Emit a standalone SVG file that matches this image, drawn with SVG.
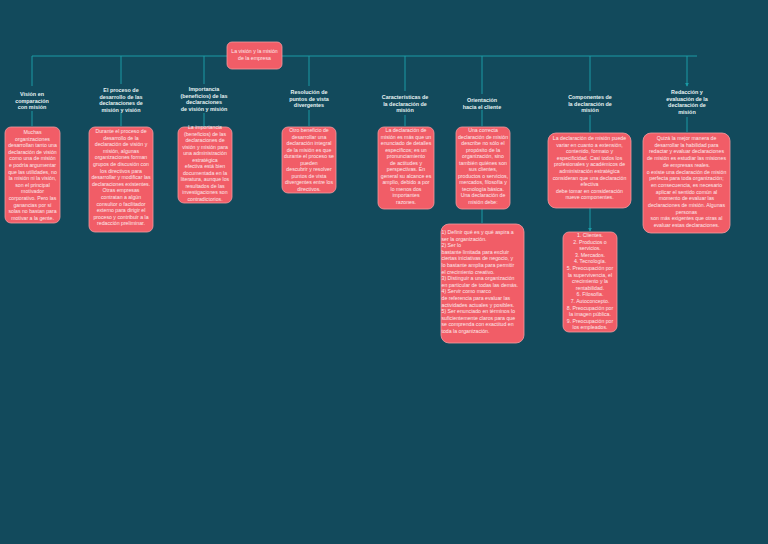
<svg xmlns="http://www.w3.org/2000/svg" width="768" height="544" viewBox="0 0 768 544">
<defs>
<marker id="a" viewBox="0 0 6 6" refX="5" refY="3" markerWidth="4" markerHeight="4" orient="auto"><path d="M0,0L6,3L0,6z" fill="#1a9aa5"/></marker>
<style>
.b{fill:#f15d67;stroke:#f59aa0;stroke-width:0.8}
.t{font-family:"Liberation Sans",Arial,sans-serif;font-size:5.2px;fill:#fde8ea;text-anchor:middle}
.h{font-family:"Liberation Sans",Arial,sans-serif;font-size:5.4px;font-weight:bold;fill:#e6f2f2;text-anchor:middle}
.l{fill:none;stroke:#1a9aa5;stroke-width:1}
</style>
</defs>
<rect width="768" height="544" fill="#124a5c"/>
<g id="connectors">
<path class="l" d="M32,56H697"/>
<path class="l" d="M32,56V86M121,56V84M204,56V84M309,56V86M405,56V91M482,56V94M590,56V91M687,56V86" marker-end="url(#a)"/>
<path class="l" d="M32,111V126M121,113V126M204,113V126M309,110V126M405,115V126M482,110V126M590,115V132M687,117V132M482,209V223M590,208V231" marker-end="url(#a)"/>
</g>
<g id="root"><rect class="b" x="227" y="42" width="55" height="27" rx="5"/><text class="t" y="53"><tspan x="254.5">La visión y la misión</tspan><tspan x="254.5" dy="6.6">de la empresa</tspan></text></g>
<g id="h1"><text class="h" y="96"><tspan x="32">Visión en</tspan><tspan x="32" dy="6.5">comparación</tspan><tspan x="32" dy="6.5">con misión</tspan></text></g>
<g id="h2"><text class="h" y="92"><tspan x="121">El proceso de</tspan><tspan x="121" dy="6.5">desarrollo de las</tspan><tspan x="121" dy="6.5">declaraciones de</tspan><tspan x="121" dy="6.5">misión y visión</tspan></text></g>
<g id="h3"><text class="h" y="91"><tspan x="204">Importancia</tspan><tspan x="204" dy="6.5">(beneficios) de las</tspan><tspan x="204" dy="6.5">declaraciones</tspan><tspan x="204" dy="6.5">de visión y misión</tspan></text></g>
<g id="h4"><text class="h" y="94"><tspan x="309">Resolución de</tspan><tspan x="309" dy="6.5">puntos de vista</tspan><tspan x="309" dy="6.5">divergentes</tspan></text></g>
<g id="h5"><text class="h" y="99"><tspan x="405">Características de</tspan><tspan x="405" dy="6.5">la declaración de</tspan><tspan x="405" dy="6.5">misión</tspan></text></g>
<g id="h6"><text class="h" y="102"><tspan x="482">Orientación</tspan><tspan x="482" dy="6.5">hacia el cliente</tspan></text></g>
<g id="h7"><text class="h" y="99"><tspan x="590">Componentes de</tspan><tspan x="590" dy="6.5">la declaración de</tspan><tspan x="590" dy="6.5">misión</tspan></text></g>
<g id="h8"><text class="h" y="94"><tspan x="687">Redacción y</tspan><tspan x="687" dy="6.5">evaluación de la</tspan><tspan x="687" dy="6.5">declaración de</tspan><tspan x="687" dy="6.5">misión</tspan></text></g>
<g id="n1"><rect class="b" x="5" y="127" width="55" height="96" rx="6"/><text class="t" y="134"><tspan x="32.5">Muchas</tspan><tspan x="32.5" dy="6.6">organizaciones</tspan><tspan x="32.5" dy="6.6">desarrollan tanto una</tspan><tspan x="32.5" dy="6.6">declaración de visión</tspan><tspan x="32.5" dy="6.6">como una de misión</tspan><tspan x="32.5" dy="6.6">e podría argumentar</tspan><tspan x="32.5" dy="6.6">que las utilidades, no</tspan><tspan x="32.5" dy="6.6">la misión ni la visión,</tspan><tspan x="32.5" dy="6.6">son el principal</tspan><tspan x="32.5" dy="6.6">motivador</tspan><tspan x="32.5" dy="6.6">corporativo. Pero las</tspan><tspan x="32.5" dy="6.6">ganancias por sí</tspan><tspan x="32.5" dy="6.6">solas no bastan para</tspan><tspan x="32.5" dy="6.6">motivar a la gente.</tspan></text></g>
<g id="n2"><rect class="b" x="89" y="127" width="64" height="105" rx="6"/><text class="t" y="133"><tspan x="121">Durante el proceso de</tspan><tspan x="121" dy="6.6">desarrollo de la</tspan><tspan x="121" dy="6.6">declaración de visión y</tspan><tspan x="121" dy="6.6">misión, algunas</tspan><tspan x="121" dy="6.6">organizaciones forman</tspan><tspan x="121" dy="6.6">grupos de discusión con</tspan><tspan x="121" dy="6.6">los directivos para</tspan><tspan x="121" dy="6.6">desarrollar y modificar las</tspan><tspan x="121" dy="6.6">declaraciones existentes.</tspan><tspan x="121" dy="6.6">Otras empresas</tspan><tspan x="121" dy="6.6">contratan a algún</tspan><tspan x="121" dy="6.6">consultor o facilitador</tspan><tspan x="121" dy="6.6">externo para dirigir el</tspan><tspan x="121" dy="6.6">proceso y contribuir a la</tspan><tspan x="121" dy="6.6">redacción preliminar.</tspan></text></g>
<g id="n3"><rect class="b" x="178" y="127" width="54" height="76" rx="6"/><text class="t" y="129"><tspan x="205">La importancia</tspan><tspan x="205" dy="6.5">(beneficios) de las</tspan><tspan x="205" dy="6.5">declaraciones de</tspan><tspan x="205" dy="6.5">visión y misión para</tspan><tspan x="205" dy="6.5">una administración</tspan><tspan x="205" dy="6.5">estratégica</tspan><tspan x="205" dy="6.5">efectiva está bien</tspan><tspan x="205" dy="6.5">documentada en la</tspan><tspan x="205" dy="6.5">literatura, aunque los</tspan><tspan x="205" dy="6.5">resultados de las</tspan><tspan x="205" dy="6.5">investigaciones son</tspan><tspan x="205" dy="6.5">contradictorios.</tspan></text></g>
<g id="n4"><rect class="b" x="282" y="127" width="54" height="66" rx="6"/><text class="t" y="132"><tspan x="309">Otro beneficio de</tspan><tspan x="309" dy="6.5">desarrollar una</tspan><tspan x="309" dy="6.5">declaración integral</tspan><tspan x="309" dy="6.5">de la misión es que</tspan><tspan x="309" dy="6.5">durante el proceso se</tspan><tspan x="309" dy="6.5">pueden</tspan><tspan x="309" dy="6.5">descubrir y resolver</tspan><tspan x="309" dy="6.5">puntos de vista</tspan><tspan x="309" dy="6.5">divergentes entre los</tspan><tspan x="309" dy="6.5">directivos.</tspan></text></g>
<g id="n5"><rect class="b" x="378" y="127" width="56" height="82" rx="6"/><text class="t" y="132"><tspan x="406">La declaración de</tspan><tspan x="406" dy="6.5">misión es más que un</tspan><tspan x="406" dy="6.5">enunciado de detalles</tspan><tspan x="406" dy="6.5">específicos; es un</tspan><tspan x="406" dy="6.5">pronunciamiento</tspan><tspan x="406" dy="6.5">de actitudes y</tspan><tspan x="406" dy="6.5">perspectivas. En</tspan><tspan x="406" dy="6.5">general su alcance es</tspan><tspan x="406" dy="6.5">amplio, debido a por</tspan><tspan x="406" dy="6.5">lo menos dos</tspan><tspan x="406" dy="6.5">importantes</tspan><tspan x="406" dy="6.5">razones.</tspan></text></g>
<g id="n6"><rect class="b" x="456" y="127" width="54" height="82" rx="6"/><text class="t" y="132"><tspan x="483">Una correcta</tspan><tspan x="483" dy="6.5">declaración de misión</tspan><tspan x="483" dy="6.5">describe no sólo el</tspan><tspan x="483" dy="6.5">propósito de la</tspan><tspan x="483" dy="6.5">organización, sino</tspan><tspan x="483" dy="6.5">también quiénes son</tspan><tspan x="483" dy="6.5">sus clientes,</tspan><tspan x="483" dy="6.5">productos o servicios,</tspan><tspan x="483" dy="6.5">mercados, filosofía y</tspan><tspan x="483" dy="6.5">tecnología básica.</tspan><tspan x="483" dy="6.5">Una declaración de</tspan><tspan x="483" dy="6.5">misión debe:</tspan></text></g>
<g id="n6b"><rect class="b" x="441" y="224" width="83" height="119" rx="8"/><text class="t" style="text-anchor:start" y="234"><tspan x="441.5">1) Definir qué es y qué aspira a</tspan><tspan x="441.5" dy="6.6">ser la organización.</tspan><tspan x="441.5" dy="6.6">2) Ser lo</tspan><tspan x="441.5" dy="6.6">bastante limitada para excluir</tspan><tspan x="441.5" dy="6.6">ciertas iniciativas de negocio, y</tspan><tspan x="441.5" dy="6.6">lo bastante amplia para permitir</tspan><tspan x="441.5" dy="6.6">el crecimiento creativo.</tspan><tspan x="441.5" dy="6.6">3) Distinguir a una organización</tspan><tspan x="441.5" dy="6.6">en particular de todas las demás.</tspan><tspan x="441.5" dy="6.6">4) Servir como marco</tspan><tspan x="441.5" dy="6.6">de referencia para evaluar las</tspan><tspan x="441.5" dy="6.6">actividades actuales y posibles.</tspan><tspan x="441.5" dy="6.6">5) Ser enunciado en términos lo</tspan><tspan x="441.5" dy="6.6">suficientemente claros para que</tspan><tspan x="441.5" dy="6.6">se comprenda con exactitud en</tspan><tspan x="441.5" dy="6.6">toda la organización.</tspan></text></g>
<g id="n7"><rect class="b" x="548" y="133" width="83" height="75" rx="8"/><text class="t" y="140"><tspan x="589.5">La declaración de misión puede</tspan><tspan x="589.5" dy="6.6">variar en cuanto a extensión,</tspan><tspan x="589.5" dy="6.6">contenido, formato y</tspan><tspan x="589.5" dy="6.6">especificidad. Casi todos los</tspan><tspan x="589.5" dy="6.6">profesionales y académicos de</tspan><tspan x="589.5" dy="6.6">administración estratégica</tspan><tspan x="589.5" dy="6.6">consideran que una declaración</tspan><tspan x="589.5" dy="6.6">efectiva</tspan><tspan x="589.5" dy="6.6">debe tomar en consideración</tspan><tspan x="589.5" dy="6.6">nueve componentes.</tspan></text></g>
<g id="n7b"><rect class="b" x="563" y="232" width="54" height="100" rx="6"/><text class="t" y="237"><tspan x="590">1. Clientes.</tspan><tspan x="590" dy="6.6">2. Productos o</tspan><tspan x="590" dy="6.6">servicios.</tspan><tspan x="590" dy="6.6">3. Mercados.</tspan><tspan x="590" dy="6.6">4. Tecnología.</tspan><tspan x="590" dy="6.6">5. Preocupación por</tspan><tspan x="590" dy="6.6">la supervivencia, el</tspan><tspan x="590" dy="6.6">crecimiento y la</tspan><tspan x="590" dy="6.6">rentabilidad.</tspan><tspan x="590" dy="6.6">6. Filosofía.</tspan><tspan x="590" dy="6.6">7. Autoconcepto.</tspan><tspan x="590" dy="6.6">8. Preocupación por</tspan><tspan x="590" dy="6.6">la imagen pública.</tspan><tspan x="590" dy="6.6">9. Preocupación por</tspan><tspan x="590" dy="6.6">los empleados.</tspan></text></g>
<g id="n8"><rect class="b" x="643" y="133" width="87" height="100" rx="8"/><text class="t" y="140"><tspan x="686.5">Quizá la mejor manera de</tspan><tspan x="686.5" dy="6.7">desarrollar la habilidad para</tspan><tspan x="686.5" dy="6.7">redactar y evaluar declaraciones</tspan><tspan x="686.5" dy="6.7">de misión es estudiar las misiones</tspan><tspan x="686.5" dy="6.7">de empresas reales.</tspan><tspan x="686.5" dy="6.7">o existe una declaración de misión</tspan><tspan x="686.5" dy="6.7">perfecta para toda organización;</tspan><tspan x="686.5" dy="6.7">en consecuencia, es necesario</tspan><tspan x="686.5" dy="6.7">aplicar el sentido común al</tspan><tspan x="686.5" dy="6.7">momento de evaluar las</tspan><tspan x="686.5" dy="6.7">declaraciones de misión. Algunas</tspan><tspan x="686.5" dy="6.7">personas</tspan><tspan x="686.5" dy="6.7">son más exigentes que otras al</tspan><tspan x="686.5" dy="6.7">evaluar estas declaraciones.</tspan></text></g>
</svg>
